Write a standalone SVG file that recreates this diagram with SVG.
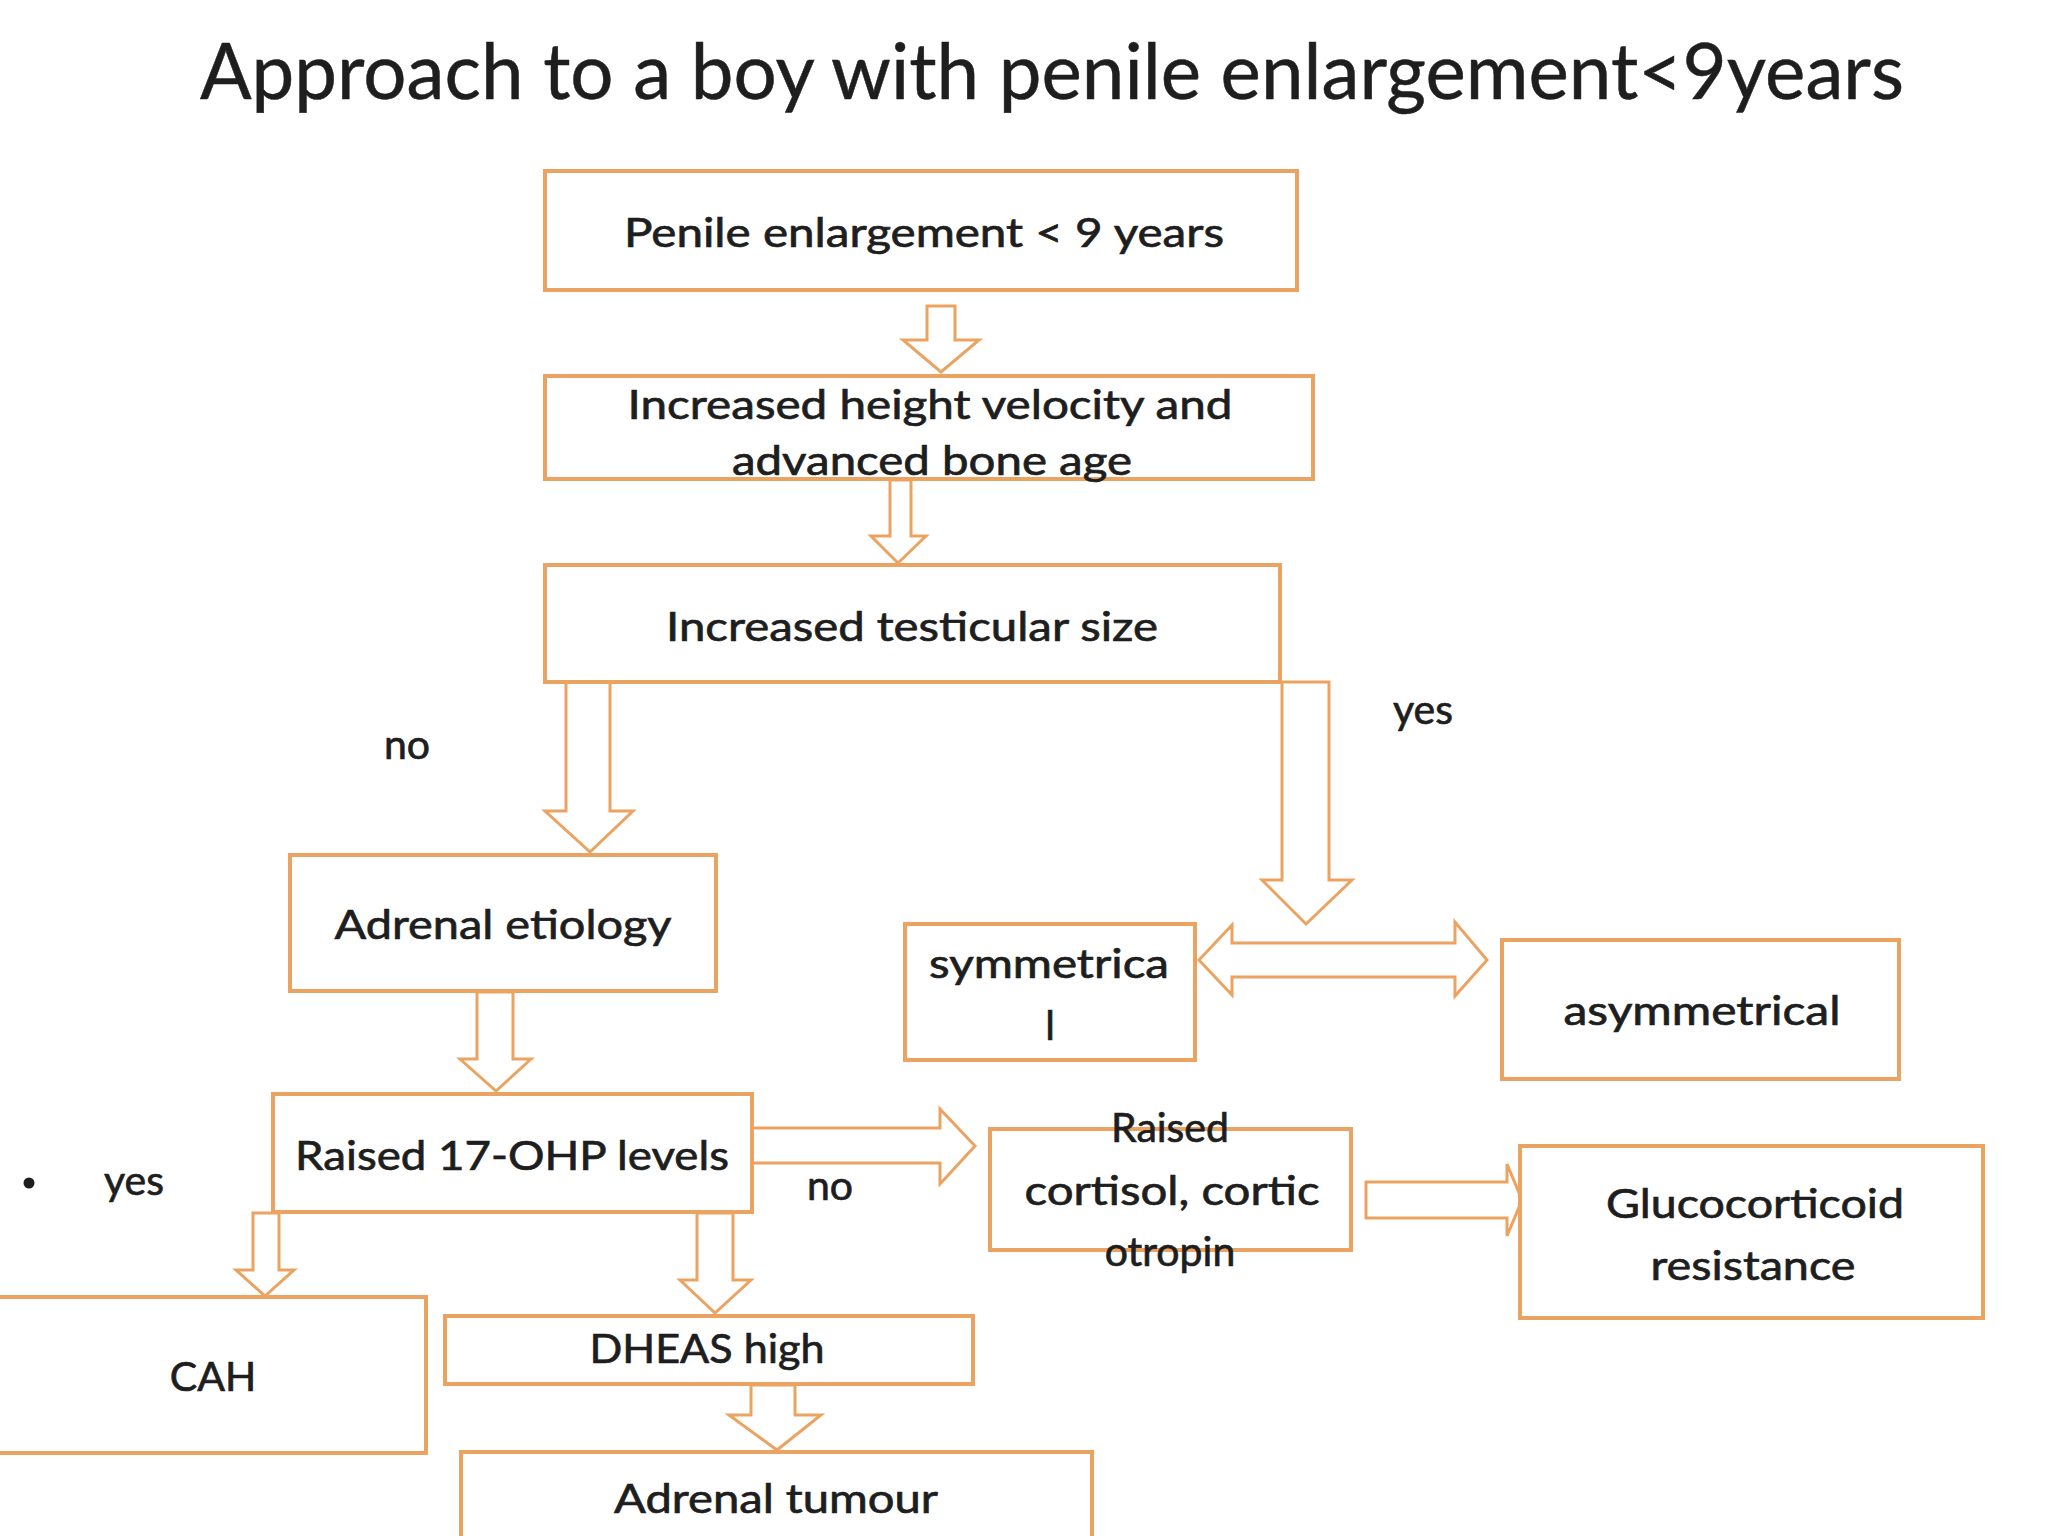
<svg xmlns="http://www.w3.org/2000/svg" width="2048" height="1536" viewBox="0 0 2048 1536">
<style>
.box{fill:#fff;stroke:#EBA362;stroke-width:4}
.arr{fill:#fff;stroke:#EBA362;stroke-width:3;stroke-linejoin:miter}
text{font-family:Lato,"Open Sans","Liberation Sans",sans-serif;fill:#1e1e1e;stroke:#1e1e1e;stroke-width:0.7;font-size:41px;text-anchor:middle}
.title{font-size:77px;text-anchor:start;stroke-width:0.5}
</style>
<rect width="2048" height="1536" fill="#fff"/>
<text class="title" x="200" y="99" textLength="1704" lengthAdjust="spacingAndGlyphs">Approach to a boy with penile enlargement&lt;9years</text>

<g id="connectors">
<polygon class="arr" points="927,306 955,306 955,340 979,340 941,372 903,340 927,340"/>
<polygon class="arr" points="890,480 911,480 911,536 926,536 898,563 871,536 890,536"/>
<polygon class="arr" points="566,682 610,682 610,811 633,811 590,852 545,811 566,811"/>
<polygon class="arr" points="1282,682 1329,682 1329,880 1352,880 1306,924 1262,880 1282,880"/>
<polygon class="arr" points="1199,960 1232,925 1232,943 1455,943 1455,922 1487,960 1455,996 1455,977 1232,977 1232,995"/>
<polygon class="arr" points="477,992 513,992 513,1059 531,1059 496,1091 460,1059 477,1059"/>
<polygon class="arr" points="253,1213 279,1213 279,1270 294,1270 265,1296 236,1270 253,1270"/>
<polygon class="arr" points="697,1213 733,1213 733,1280 751,1280 715,1313 680,1280 697,1280"/>
<polygon class="arr" points="751,1385 795,1385 795,1415 821,1415 777,1450 729,1415 751,1415"/>
<polygon class="arr" points="752,1128 940,1128 940,1109 975,1146 940,1184 940,1163 752,1163"/>
<polygon class="arr" points="1366,1182 1507,1182 1507,1164 1522,1200 1507,1236 1507,1218 1366,1218"/>
</g>

<g id="n1"><rect class="box" x="545" y="171" width="752" height="119"/>
<text x="924" y="247" textLength="600" lengthAdjust="spacingAndGlyphs">Penile enlargement &lt; 9 years</text></g>

<g id="n2"><rect class="box" x="545" y="376" width="768" height="103"/>
<text x="930" y="419" textLength="605" lengthAdjust="spacingAndGlyphs">Increased height velocity and</text>
<text x="932" y="475" textLength="400" lengthAdjust="spacingAndGlyphs">advanced bone age</text></g>

<g id="n3"><rect class="box" x="545" y="565" width="735" height="117"/>
<text x="912" y="641" textLength="492" lengthAdjust="spacingAndGlyphs">Increased testicular size</text></g>

<g id="n4"><rect class="box" x="290" y="855" width="426" height="136"/>
<text x="503" y="939" textLength="337" lengthAdjust="spacingAndGlyphs">Adrenal etiology</text></g>

<g id="n5"><rect class="box" x="905" y="924" width="290" height="136"/>
<text x="1049" y="978" textLength="240" lengthAdjust="spacingAndGlyphs">symmetrica</text>
<text x="1050" y="1040">l</text></g>

<g id="n6"><rect class="box" x="1502" y="940" width="397" height="139"/>
<text x="1702" y="1025" textLength="277" lengthAdjust="spacingAndGlyphs">asymmetrical</text></g>

<g id="n7"><rect class="box" x="273" y="1094" width="479" height="118"/>
<text x="512" y="1170" textLength="434" lengthAdjust="spacingAndGlyphs">Raised 17-OHP levels</text></g>

<g id="n8"><rect class="box" x="-2" y="1297" width="428" height="156"/>
<text x="213" y="1391">CAH</text></g>

<g id="n9"><rect class="box" x="445" y="1316" width="528" height="68"/>
<text x="707" y="1363" textLength="235" lengthAdjust="spacingAndGlyphs">DHEAS high</text></g>

<g id="n10"><rect class="box" x="461" y="1452" width="631" height="110"/>
<text x="776" y="1513" textLength="324" lengthAdjust="spacingAndGlyphs">Adrenal tumour</text></g>

<g id="n11"><rect class="box" x="990" y="1129" width="361" height="121"/>
<text x="1170" y="1142">Raised</text>
<text x="1172" y="1205" textLength="295" lengthAdjust="spacingAndGlyphs">cortisol, cortic</text>
<text x="1170" y="1266">otropin</text></g>

<g id="n12"><rect class="box" x="1520" y="1146" width="463" height="172"/>
<text x="1755" y="1218" textLength="298" lengthAdjust="spacingAndGlyphs">Glucocorticoid</text>
<text x="1753" y="1280" textLength="205" lengthAdjust="spacingAndGlyphs">resistance</text></g>

<g id="labels">
<text x="407" y="759">no</text>
<text x="1423" y="724">yes</text>
<text x="830" y="1200">no</text>
<circle cx="29" cy="1183" r="5.5" fill="#1e1e1e"/>
<text x="134" y="1195">yes</text>
</g>
</svg>
